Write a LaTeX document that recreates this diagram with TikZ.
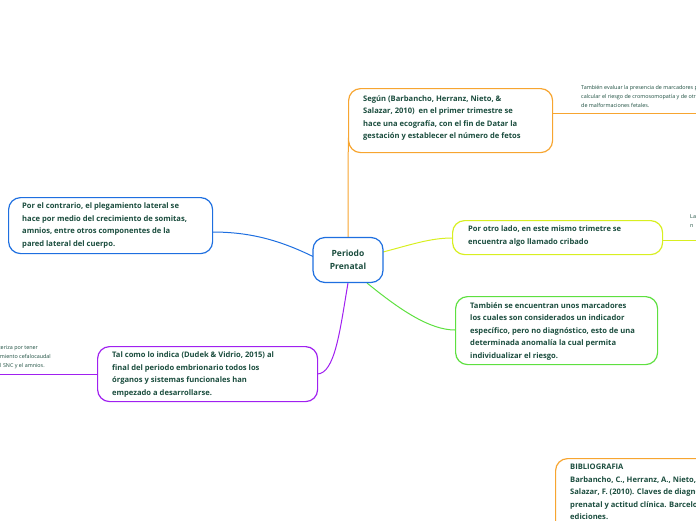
\documentclass[tikz,border=0pt]{standalone}
\usepackage{fontspec}
\setmainfont{Open Sans}
\definecolor{txt}{HTML}{1B4D3E}
\definecolor{cor}{HTML}{F7A530}
\definecolor{cbl}{HTML}{1E6FE0}
\definecolor{cye}{HTML}{D8EF20}
\definecolor{cgr}{HTML}{5EE040}
\definecolor{cpu}{HTML}{A020F0}
\begin{document}
\begin{tikzpicture}[x=1pt,y=-1pt,
  box/.style={draw=#1,line width=1.2pt,rounded corners=12pt,fill=white,anchor=north west,align=left,inner sep=0pt,text=txt,font=\fontsize{7.6}{12.5}\selectfont\bfseries},
  side/.style={text=txt,font=\fontsize{5.4}{9}\selectfont,align=left,inner sep=0pt},
  con/.style={line width=1pt}]
\useasboundingbox (0,0) rectangle (696,520);
\clip (0,0) rectangle (696,520);
% connectors
\coordinate (cT) at (348,238);
\draw[con,cor] (cT) .. controls (348,180) and (348,140) .. (349,125);
\draw[con,cbl] (316,258) .. controls (280,240) and (250,232) .. (212,232);
\draw[con,cye] (383,252) .. controls (410,245) and (430,238) .. (452,238);
\draw[con,cgr] (367,283) .. controls (400,310) and (430,330) .. (455,330);
\draw[con,cpu] (348,283) .. controls (340,330) and (335,374) .. (317,374);
\draw[con,cor] (552,113) -- (696,113);
\draw[con,cye] (662,240) -- (696,240);
\draw[con,cpu] (97,374) -- (0,374);
% boxes
\node[box=cbl,minimum width=70pt,minimum height=45pt,align=center,anchor=center,font=\fontsize{8.5}{13}\selectfont\bfseries] (c) at (348,260) {Periodo\\Prenatal};
\node[box=cor,minimum width=204pt,minimum height=64pt] (t) at (348,88) {};
\node[anchor=north west,text=txt,font=\fontsize{7.6}{12.5}\selectfont\bfseries,align=left,inner sep=0pt] at (363,95) {Según (Barbancho, Herranz, Nieto, \&\\Salazar, 2010)\enspace en el primer trimestre se\\hace una ecografía, con el fin de Datar la\\gestación y establecer el número de fetos};
\node[box=cbl,minimum width=204pt,minimum height=56pt] (l) at (8,197) {};
\node[anchor=north west,text=txt,font=\fontsize{7.6}{12.5}\selectfont\bfseries,align=left,inner sep=0pt] at (22,203) {Por el contrario, el plegamiento lateral se\\hace por medio del crecimiento de somitas,\\amnios, entre otros componentes de la\\pared lateral del cuerpo.};
\node[box=cye,minimum width=210pt,minimum height=34pt] (y) at (452,220) {};
\node[anchor=north west,text=txt,font=\fontsize{7.6}{12.5}\selectfont\bfseries,align=left,inner sep=0pt] at (468,226) {Por otro lado, en este mismo trimetre se\\encuentra algo llamado cribado};
\node[box=cgr,minimum width=202pt,minimum height=68pt] (g) at (455,296) {};
\node[anchor=north west,text=txt,font=\fontsize{7.6}{12.5}\selectfont\bfseries,align=left,inner sep=0pt] at (470,302) {También se encuentran unos marcadores\\los cuales son considerados un indicador\\específico, pero no diagnóstico, esto de una\\determinada anomalía la cual permita\\individualizar el riesgo.};
\node[box=cpu,minimum width=220pt,minimum height=55pt] (p) at (97,346) {};
\node[anchor=north west,text=txt,font=\fontsize{7.6}{12.5}\selectfont\bfseries,align=left,inner sep=0pt] at (112,352) {Tal como lo indica (Dudek \& Vidrio, 2015) al\\final del periodo embrionario todos los\\órganos y sistemas funcionales han\\empezado a desarrollarse.};
\node[box=cor,minimum width=160pt,minimum height=80pt] (b) at (555,458) {};
\node[anchor=north west,text=txt,font=\fontsize{7.6}{12.5}\selectfont\bfseries,align=left,inner sep=0pt] at (570,464) {BIBLIOGRAFIA\\Barbancho, C., Herranz, A., Nieto, E., \&\\Salazar, F. (2010). Claves de diagnóstico\\prenatal y actitud clínica. Barcelona:\\ediciones.};
% side notes
\node[side,anchor=north west] (s1) at (581,85) {También evaluar la presencia de marcadores para\\calcular el riesgo de cromosomopatía y de otras\\de malformaciones fetales.};
\node[side,anchor=north west] (s2) at (690,214) {La\\n};
\node[side,anchor=north west] (s3) at (-22,345) {Se caracteriza por tener\\un plegamiento cefalocaudal\\cierre del SNC y el amnios.};
\end{tikzpicture}
\end{document}
